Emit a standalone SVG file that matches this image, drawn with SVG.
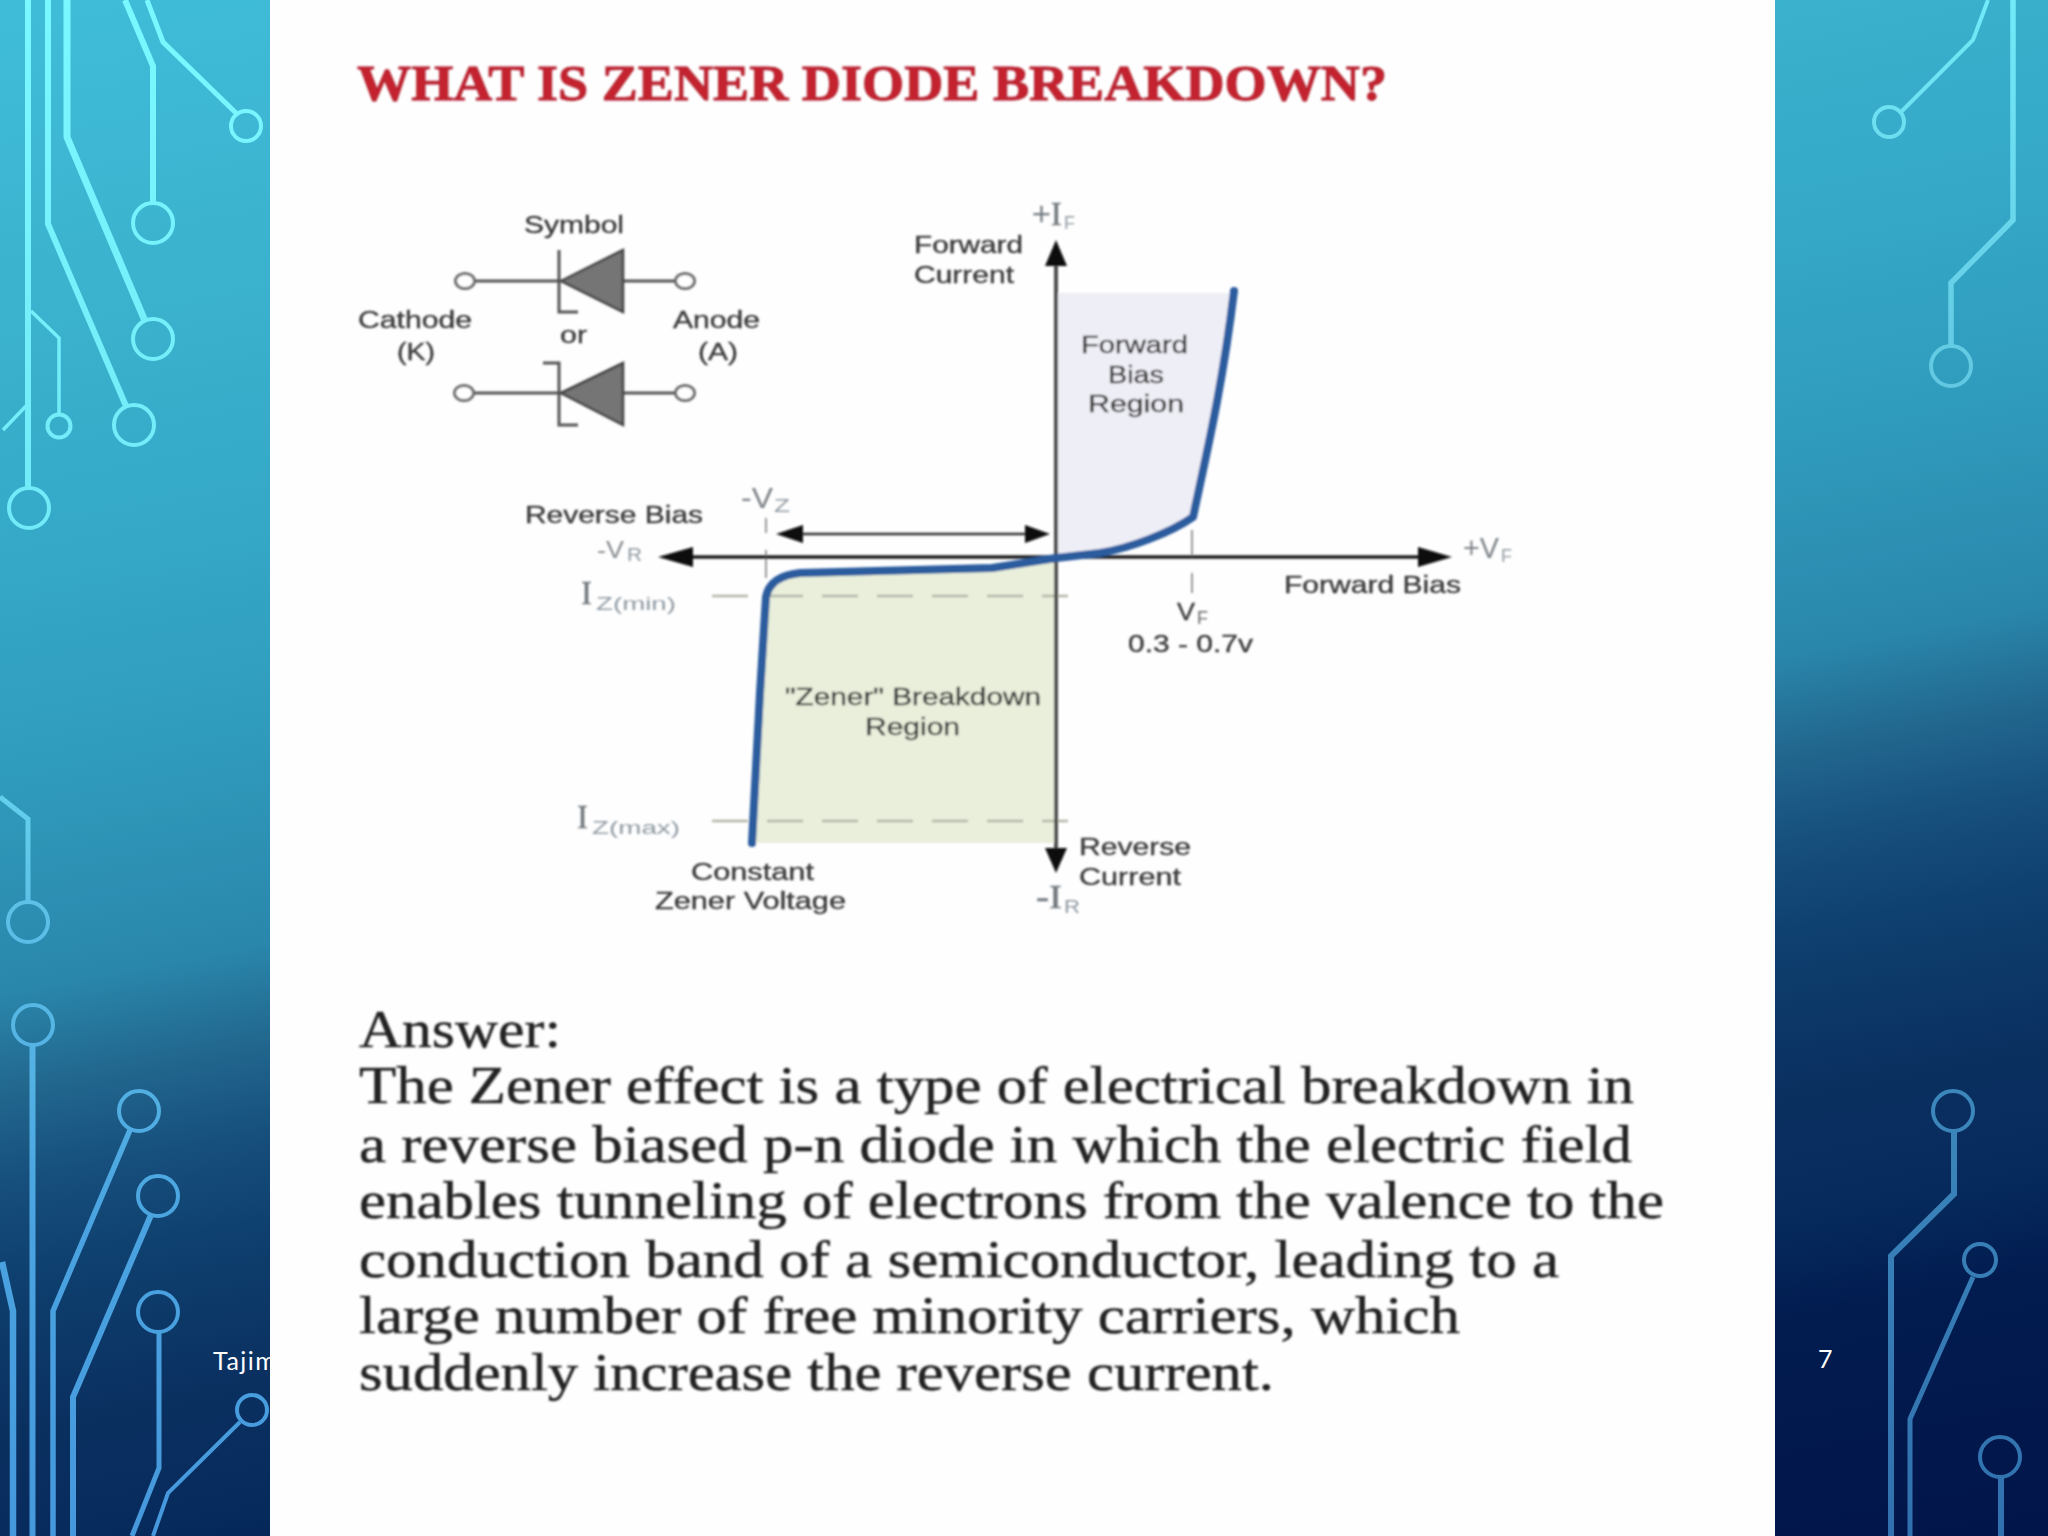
<svg xmlns="http://www.w3.org/2000/svg" width="2048" height="1536" viewBox="0 0 2048 1536">
<defs>
<linearGradient id="bg" gradientUnits="userSpaceOnUse" x1="0" y1="0" x2="353" y2="1858">
<stop offset="0.014" stop-color="#3fbcd8"/><stop offset="0.19" stop-color="#3ab0cc"/><stop offset="0.29" stop-color="#35a8c8"/><stop offset="0.40" stop-color="#309cbd"/><stop offset="0.515" stop-color="#2a87ac"/><stop offset="0.565" stop-color="#22688f"/><stop offset="0.617" stop-color="#164e7c"/><stop offset="0.667" stop-color="#0e3f6e"/><stop offset="0.744" stop-color="#0a3060"/><stop offset="0.812" stop-color="#062a5c"/><stop offset="0.86" stop-color="#021c50"/><stop offset="1" stop-color="#02154a"/>
</linearGradient>
<linearGradient id="tr" gradientUnits="userSpaceOnUse" x1="0" y1="0" x2="0" y2="1536">
<stop offset="0" stop-color="#7af8ff"/><stop offset="0.4" stop-color="#6fe8f6"/><stop offset="0.6" stop-color="#5cbfe6"/><stop offset="0.8" stop-color="#4aa3e0"/><stop offset="1" stop-color="#4598dc"/>
</linearGradient>
<linearGradient id="tr2" gradientUnits="userSpaceOnUse" x1="0" y1="0" x2="0" y2="1536">
<stop offset="0" stop-color="#72eaf8"/><stop offset="0.25" stop-color="#62c8e2"/><stop offset="0.7" stop-color="#3c88bc"/><stop offset="1" stop-color="#3070ae"/>
</linearGradient>
<filter id="soft" x="-5%" y="-5%" width="110%" height="110%"><feGaussianBlur stdDeviation="0.8"/></filter>
<style>
.t{fill:none;stroke:url(#tr);stroke-linejoin:miter}
.c{fill:none;stroke:url(#tr);stroke-width:4}
.t2{fill:none;stroke:url(#tr2);stroke-linejoin:miter}
.c2{fill:none;stroke:url(#tr2);stroke-width:4}
.l{font-family:"Liberation Sans",Arial,sans-serif;font-size:23px;fill:#3a3a3a;stroke:#3a3a3a;stroke-width:.35}
.g{font-family:"Liberation Sans",Arial,sans-serif;font-size:29px;fill:#7d8388}
.s{font-family:"Liberation Sans",Arial,sans-serif;font-size:18px;fill:#8f9aa3}
.i{font-family:"Liberation Serif",serif;font-size:33px;fill:#70777d;stroke:#70777d;stroke-width:.4}
.b{font-family:"Liberation Serif",serif;font-size:52px;fill:#222;stroke:#222;stroke-width:.4}
.h{font-family:"Liberation Serif",serif;font-weight:bold;font-size:50px;fill:#c4202e;stroke:#a81826;stroke-width:.8}
.f{font-family:"Lato","Open Sans",sans-serif;font-size:25px;fill:#fff}
.w{fill:none;stroke:#555;stroke-width:3}
.r{fill:#fff;stroke:#6a6a6a;stroke-width:3}
.d{fill:#757575;stroke:#444;stroke-width:2.5}
.ay{fill:none;stroke:#4f4f4f;stroke-width:4}
.ah{fill:none;stroke:#1c1c1c;stroke-width:3.5}
.k{fill:#0c0c0c}
.dash{fill:none;stroke:#b3b6a8;stroke-width:2.5;stroke-dasharray:36 19}
.tick{fill:none;stroke:#9a9a9a;stroke-width:2}
</style>
</defs>
<rect id="background" width="2048" height="1536" fill="url(#bg)"/>
<g id="traces-left-top">
<path class="t" stroke-width="6" d="M28 0V488"/>
<path class="t" stroke-width="3.500" d="M31 311L59 338V414M3 430L26 406"/>
<path class="t" stroke-width="6" d="M48 0V224L126 406"/>
<path class="t" stroke-width="7" d="M67 0V137L145 321"/>
<path class="t" stroke-width="6" d="M125 0L153 66V203"/>
<path class="t" stroke-width="5" d="M147 0L163 42L236 113"/>
<circle class="c" cx="29" cy="508" r="20"/><circle class="c" cx="59" cy="426" r="11.500"/><circle class="c" cx="134" cy="425" r="20"/><circle class="c" cx="153" cy="339" r="20"/><circle class="c" cx="153" cy="223" r="20"/><circle class="c" cx="246" cy="126" r="15"/>
</g>
<g id="traces-left-bottom">
<path class="t" stroke-width="5" d="M0 797L28 819V902"/>
<path class="t" stroke-width="6" d="M32.500 1045V1536"/>
<path class="t" stroke-width="5.500" d="M130 1130L53 1311V1536"/>
<path class="t" stroke-width="6" d="M151 1215L73 1397V1536"/>
<path class="t" stroke-width="5" d="M159 1332V1468L132 1536"/>
<path class="t" stroke-width="4" d="M240 1422L168 1493L153 1536"/>
<path class="t" stroke-width="6.500" d="M2 1262L13 1311V1536"/>
<circle class="c" cx="28" cy="922" r="20"/><circle class="c" cx="33" cy="1025" r="20"/><circle class="c" cx="139" cy="1111" r="20"/><circle class="c" cx="158" cy="1196" r="20"/><circle class="c" cx="158" cy="1312" r="20"/><circle class="c" cx="252" cy="1410" r="15"/>
</g>
<g id="traces-right">
<path class="t2" stroke-width="4" d="M1900 113L1973 40L1988 0"/>
<path class="t2" stroke-width="5.500" d="M2013 0V220L1951 283V346"/>
<circle class="c2" cx="1889" cy="122" r="15"/><circle class="c2" cx="1951" cy="366" r="20"/>
<path class="t2" stroke-width="6" d="M1954 1131V1194L1891 1256V1536"/>
<path class="t2" stroke-width="5" d="M1973 1277L1910 1419V1536"/>
<path class="t2" stroke-width="6" d="M2001 1478V1536"/>
<circle class="c2" cx="1953" cy="1111" r="20"/><circle class="c2" cx="1980" cy="1260" r="16"/><circle class="c2" cx="2000" cy="1457" r="20"/>
</g>
<text id="footer" class="f" x="213" y="1370" letter-spacing="1.500">Tajim</text>
<text id="page-number" class="f" x="1818" y="1368">7</text>
<rect id="panel" x="270" width="1505" height="1536" fill="#fefefe"/>
<g id="slide-image" filter="url(#soft)">
<text id="title" class="h" x="357" y="100" textLength="1030" lengthAdjust="spacingAndGlyphs">WHAT IS ZENER DIODE BREAKDOWN?</text>
<g id="regions">
<path id="forward-region" fill="#eeeef6" d="M1056 293H1232C1222 390 1205 460 1193 517C1170 533 1130 548 1100 553L1056 558Z"/>
<path id="zener-region" fill="#e9efdb" d="M1056 560L992 568L800 573Q770 576 766 597L752 843H1056Z"/>
</g>
<g id="symbol-1">
<path class="w" d="M474 281H561M623 281H676M578 312H559V250"/>
<path class="d" d="M561 281L623 250V312Z"/>
<ellipse class="r" cx="465" cy="281" rx="9.500" ry="7.500"/><ellipse class="r" cx="685" cy="281" rx="9.500" ry="7.500"/>
</g>
<g id="symbol-2">
<path class="w" d="M473 393H561M623 393H676M578 425H559V363H543"/>
<path class="d" d="M561 393L623 363V425Z"/>
<ellipse class="r" cx="464" cy="393" rx="9.500" ry="7.500"/><ellipse class="r" cx="685" cy="393" rx="9.500" ry="7.500"/>
</g>
<g id="connectors">
<path class="tick" d="M766 518V533M766 550V578M1192 530V557M1192 573V593"/>
<path class="dash" d="M712 596H1068M712 821H1068"/>
<path class="ah" d="M690 557H1420"/>
<path class="k" d="M658 557L693 547V567Z"/>
<path class="k" d="M1452 557L1418 547V567Z"/>
<path fill="none" stroke="#333" stroke-width="2.500" d="M800 534H1028"/>
<path class="k" d="M776 534L803 525V543Z"/>
<path class="k" d="M1050 534L1025 525V543Z"/>
<path class="ay" d="M1056 262V850"/>
<path class="k" d="M1056 240L1045 266H1067Z"/>
<path class="k" d="M1056 873L1045 848H1067Z"/>
<path id="curve" fill="none" stroke="#2a5b9e" stroke-width="8" stroke-linecap="round" stroke-linejoin="round" d="M752 843L760 693L766 597Q770 576 800 573L992 568L1056 558L1100 553C1130 548 1170 533 1193 517C1205 460 1222 390 1234 291"/>
</g>
<g id="labels">
<text class="l" x="524" y="233" textLength="100" lengthAdjust="spacingAndGlyphs">Symbol</text>
<text class="l" x="358" y="328" textLength="114" lengthAdjust="spacingAndGlyphs">Cathode</text>
<text class="l" x="397" y="360" textLength="38" lengthAdjust="spacingAndGlyphs">(K)</text>
<text class="l" x="560" y="343" textLength="27" lengthAdjust="spacingAndGlyphs">or</text>
<text class="l" x="673" y="328" textLength="87" lengthAdjust="spacingAndGlyphs">Anode</text>
<text class="l" x="698" y="360" textLength="40" lengthAdjust="spacingAndGlyphs">(A)</text>
<text class="l" x="525" y="523" textLength="178" lengthAdjust="spacingAndGlyphs">Reverse Bias</text>
<text class="l" x="914" y="253" textLength="109" lengthAdjust="spacingAndGlyphs">Forward</text>
<text class="l" x="914" y="283" textLength="100" lengthAdjust="spacingAndGlyphs">Current</text>
<text class="l" x="1081" y="353" textLength="107" lengthAdjust="spacingAndGlyphs">Forward</text>
<text class="l" x="1108" y="383" textLength="56" lengthAdjust="spacingAndGlyphs">Bias</text>
<text class="l" x="1088" y="412" textLength="96" lengthAdjust="spacingAndGlyphs">Region</text>
<text class="l" x="1284" y="593" textLength="177" lengthAdjust="spacingAndGlyphs">Forward Bias</text>
<text class="l" x="1128" y="652" textLength="125" lengthAdjust="spacingAndGlyphs">0.3 - 0.7v</text>
<text class="l" x="785" y="705" textLength="256" lengthAdjust="spacingAndGlyphs">"Zener" Breakdown</text>
<text class="l" x="865" y="735" textLength="95" lengthAdjust="spacingAndGlyphs">Region</text>
<text class="l" x="691" y="880" textLength="123" lengthAdjust="spacingAndGlyphs">Constant</text>
<text class="l" x="655" y="909" textLength="191" lengthAdjust="spacingAndGlyphs">Zener Voltage</text>
<text class="l" x="1079" y="855" textLength="112" lengthAdjust="spacingAndGlyphs">Reverse</text>
<text class="l" x="1079" y="885" textLength="102" lengthAdjust="spacingAndGlyphs">Current</text>
<text class="l" x="1177" y="620" textLength="18" lengthAdjust="spacingAndGlyphs">V</text><text class="s" x="1197" y="624" style="fill:#666">F</text>
<text class="l" x="597" y="558" textLength="27" lengthAdjust="spacingAndGlyphs" style="fill:#858b90;stroke:none">-V</text><text class="s" x="627" y="561" textLength="15" lengthAdjust="spacingAndGlyphs">R</text>
<text class="g" x="741" y="508" textLength="32" lengthAdjust="spacingAndGlyphs">-V</text><text class="s" x="774" y="512" textLength="16" lengthAdjust="spacingAndGlyphs">Z</text>
<text class="g" x="1463" y="558" textLength="36" lengthAdjust="spacingAndGlyphs">+V</text><text class="s" x="1501" y="562">F</text>
<text class="i" x="1032" y="225" textLength="30" lengthAdjust="spacingAndGlyphs">+I</text><text class="s" x="1064" y="229">F</text>
<text class="i" x="1036" y="908" textLength="26" lengthAdjust="spacingAndGlyphs">-I</text><text class="s" x="1064" y="913" textLength="16" lengthAdjust="spacingAndGlyphs">R</text>
<text class="i" x="581" y="604">I</text><text class="s" x="596" y="610" textLength="80" lengthAdjust="spacingAndGlyphs">Z(min)</text>
<text class="i" x="577" y="828">I</text><text class="s" x="592" y="834" textLength="88" lengthAdjust="spacingAndGlyphs">Z(max)</text>
</g>
<g id="answer">
<text class="b" x="359" y="1047" textLength="202" lengthAdjust="spacingAndGlyphs">Answer:</text>
<text class="b" x="359" y="1103" textLength="1275" lengthAdjust="spacingAndGlyphs">The Zener effect is a type of electrical breakdown in</text>
<text class="b" x="359" y="1162" textLength="1273" lengthAdjust="spacingAndGlyphs">a reverse biased p-n diode in which the electric field</text>
<text class="b" x="359" y="1218" textLength="1305" lengthAdjust="spacingAndGlyphs">enables tunneling of electrons from the valence to the</text>
<text class="b" x="359" y="1277" textLength="1200" lengthAdjust="spacingAndGlyphs">conduction band of a semiconductor, leading to a</text>
<text class="b" x="359" y="1333" textLength="1101" lengthAdjust="spacingAndGlyphs">large number of free minority carriers, which</text>
<text class="b" x="359" y="1390" textLength="915" lengthAdjust="spacingAndGlyphs">suddenly increase the reverse current.</text>
</g>
</g>
</svg>
